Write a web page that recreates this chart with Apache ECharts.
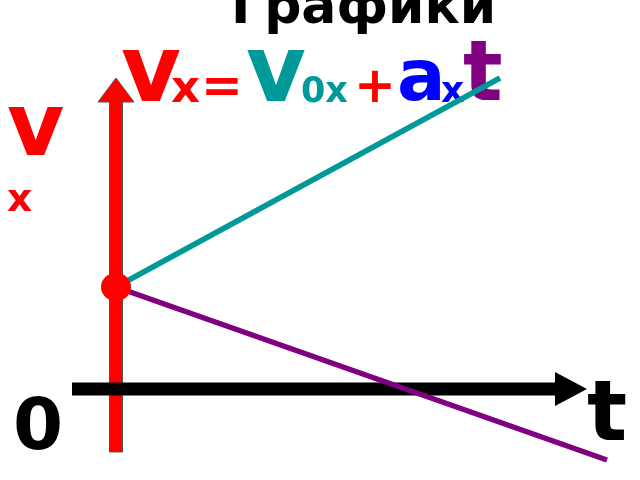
<!DOCTYPE html>
<html>
<head>
<meta charset="utf-8">
<script src="https://cdn.jsdelivr.net/npm/echarts@6/dist/echarts.min.js"></script>
<style>
html,body{margin:0;padding:0;background:#fff;}
#chart{width:640px;height:480px;}
</style>
</head>
<body>
<div id="chart"></div>
<script>
// ---- data (units: t along the horizontal axis, v_x along the vertical axis) ----
const v0 = 2.04;                              // initial velocity v0x (red dot)
const tealLine = [[0, v0], [7.68, 6.22]];     // a_x > 0
const purpleLine = [[0, v0], [9.82, -1.42]];  // a_x < 0
const vAxisArrow = [[0, -1.26, 0, 6.22]];     // red v_x axis (from, to)
const tAxisArrow = [[-0.88, 0, 9.42, 0]];     // black t axis (from, to)
const titleText = 'Графики';
const xRange = [-2.32, 10.48];
const yRange = [-1.82, 7.78];

const FONT = '"DejaVu Sans", Verdana, sans-serif';

function arrowRenderer(shaftW, headW, headL, fill, stroke) {
  return function (params, api) {
    const p1 = api.coord([api.value(0), api.value(1)]);
    const p2 = api.coord([api.value(2), api.value(3)]);
    const dx = p2[0] - p1[0], dy = p2[1] - p1[1];
    const len = Math.sqrt(dx * dx + dy * dy);
    const ux = dx / len, uy = dy / len;
    const nx = -uy, ny = ux;
    const bx = p2[0] - ux * headL, by = p2[1] - uy * headL;
    const s = shaftW / 2, h = headW / 2;
    const pts = [
      [p1[0] + nx * s, p1[1] + ny * s],
      [bx + nx * s, by + ny * s],
      [bx + nx * h, by + ny * h],
      [p2[0], p2[1]],
      [bx - nx * h, by - ny * h],
      [bx - nx * s, by - ny * s],
      [p1[0] - nx * s, p1[1] - ny * s]
    ];
    return {
      type: 'polygon',
      shape: { points: pts },
      style: { fill: fill, stroke: stroke || null, lineWidth: stroke ? 1 : 0 }
    };
  };
}

function txt(text, x, y, size, color) {
  return {
    type: 'text', x: x, y: y, z: 1,
    style: {
      text: text, fill: color, font: 'bold ' + size + 'px ' + FONT,
      textAlign: 'left', textVerticalAlign: 'middle', verticalAlign: 'middle'
    }
  };
}

const chart = echarts.init(document.getElementById('chart'), null, { renderer: 'canvas' });
chart.setOption({
  animation: false,
  backgroundColor: '#ffffff',
  grid: { left: 0, right: 0, top: 0, bottom: 0 },
  xAxis: { type: 'value', min: xRange[0], max: xRange[1], show: false },
  yAxis: { type: 'value', min: yRange[0], max: yRange[1], show: false },
  graphic: [
    txt(titleText, 231, 9.6, 52, '#000000'),
    txt('v', 121, 77, 92, '#ff0000'),
    txt('x', 171, 90, 45, '#ff0000'),
    txt('=', 201, 89.1, 50, '#ff0000'),
    txt('v', 246, 77, 92, '#009999'),
    txt('0x', 301, 92.6, 35, '#009999'),
    txt('+', 354, 89.1, 50, '#ff0000'),
    txt('a', 397, 81.6, 72, '#0000ff'),
    txt('x', 441, 92.3, 36, '#0000ff'),
    txt('t', 463, 78.3, 83, '#800080'),
    txt('v', 7, 131.9, 88, '#ff0000'),
    txt('x', 7, 200.5, 39, '#ff0000'),
    txt('0', 13, 430.6, 72, '#000000'),
    txt('t', 587, 418, 84, '#000000')
  ],
  series: [
    {
      type: 'custom', name: 'v axis', coordinateSystem: 'cartesian2d', z: 2,
      data: vAxisArrow, renderItem: arrowRenderer(13, 36, 24, '#ff0000', '#555555'),
      silent: true
    },
    {
      type: 'custom', name: 't axis', coordinateSystem: 'cartesian2d', z: 3,
      data: tAxisArrow, renderItem: arrowRenderer(13, 34, 32, '#000000', null),
      silent: true
    },
    {
      type: 'line', name: 'a>0', data: tealLine, z: 4, symbol: 'none',
      lineStyle: { color: '#009999', width: 5.5 }
    },
    {
      type: 'line', name: 'a<0', data: purpleLine, z: 4, symbol: 'none',
      lineStyle: { color: '#800080', width: 5.5 }
    },
    {
      type: 'scatter', name: 'v0', data: [[0, v0]], z: 6,
      symbol: 'circle', symbolSize: [30, 28],
      itemStyle: { color: '#ff0000', opacity: 1 }
    }
  ]
});
</script>
</body>
</html>
